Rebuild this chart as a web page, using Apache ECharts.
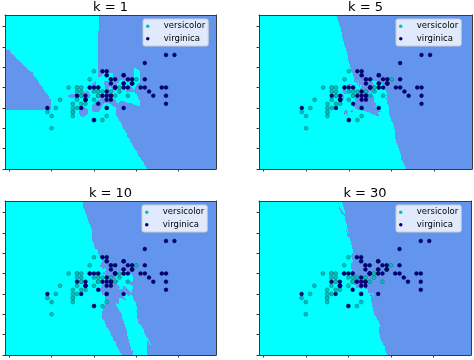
<!DOCTYPE html>
<html><head><meta charset="utf-8">
<script src="https://cdn.jsdelivr.net/npm/echarts@6/dist/echarts.min.js"></script>
<style>html,body{margin:0;padding:0;background:#fff}#c{width:474px;height:360px}</style>
</head><body><div id="c"></div>
<script>
// Iris: sepal length (x) and sepal width (y)
const versicolorX = [7.0,6.4,6.9,5.5,6.5,5.7,6.3,4.9,6.6,5.2,5.0,5.9,6.0,6.1,5.6,6.7,5.6,5.8,6.2,5.6,5.9,6.1,6.3,6.1,6.4,6.6,6.8,6.7,6.0,5.7,5.5,5.5,5.8,6.0,5.4,6.0,6.7,6.3,5.6,5.5,5.5,6.1,5.8,5.0,5.6,5.7,5.7,6.2,5.1,5.7];
const versicolorY = [3.2,3.2,3.1,2.3,2.8,2.8,3.3,2.4,2.9,2.7,2.0,3.0,2.2,2.9,2.9,3.1,3.0,2.7,2.2,2.5,3.2,2.8,2.5,2.8,2.9,3.0,2.8,3.0,2.9,2.6,2.4,2.4,2.7,2.7,3.0,3.4,3.1,2.3,3.0,2.5,2.6,3.0,2.6,2.3,2.7,3.0,2.9,2.9,2.5,2.8];
const virginicaX = [6.3,5.8,7.1,6.3,6.5,7.6,4.9,7.3,6.7,7.2,6.5,6.4,6.8,5.7,5.8,6.4,6.5,7.7,7.7,6.0,6.9,5.6,7.7,6.3,6.7,7.2,6.2,6.1,6.4,7.2,7.4,7.9,6.4,6.3,6.1,7.7,6.3,6.4,6.0,6.9,6.7,6.9,5.8,6.8,6.7,6.7,6.3,6.5,6.2,5.9];
const virginicaY = [3.3,2.7,3.0,2.9,3.0,3.0,2.5,2.9,2.5,3.6,3.2,2.7,3.0,2.5,2.8,3.2,3.0,3.8,2.6,2.2,3.2,2.8,2.8,2.7,3.3,3.2,2.8,3.0,2.8,3.0,2.8,3.8,2.8,2.8,2.6,3.0,3.4,3.1,3.0,3.1,3.1,3.1,2.7,3.2,3.3,3.0,2.5,3.0,3.4,3.0];
const classNames = ['versicolor','virginica'];
const kValues = [1,5,10,30];
const xTicks = [4,5,6,7,8];
const yTicks = [1.0,1.5,2.0,2.5,3.0,3.5,4.0,4.5];
const gridStep = 0.02;

// training set
const TX = versicolorX.concat(virginicaX);
const TY = versicolorY.concat(virginicaY);
const TC = versicolorX.map(()=>0).concat(virginicaX.map(()=>1));
const N = TX.length;

// mesh like np.arange(min-1, max+1, h)
const xLo = Math.min(...TX) - 1, xHi = Math.max(...TX) + 1;
const yLo = Math.min(...TY) - 1, yHi = Math.max(...TY) + 1;
const xs = [], ys = [];
for (let i = 0; xLo + i*gridStep < xHi - 1e-9; i++) xs.push(xLo + i*gridStep);
for (let j = 0; yLo + j*gridStep < yHi - 1e-9; j++) ys.push(yLo + j*gridStep);
const xMin = xs[0], xMax = xs[xs.length-1], yMin = ys[0], yMax = ys[ys.length-1];

const bd = new Float64Array(64), bc = new Int8Array(64);
function predict(px, py, k) {
  for (let j = 0; j < k; j++) { bd[j] = Infinity; bc[j] = 0; }
  for (let i = 0; i < N; i++) {
    const dx = TX[i]-px, dy = TY[i]-py, d = dx*dx+dy*dy;
    if (d < bd[k-1]) {
      let j = k-1;
      while (j > 0 && bd[j-1] > d) { bd[j] = bd[j-1]; bc[j] = bc[j-1]; j--; }
      bd[j] = d; bc[j] = TC[i];
    }
  }
  let v = 0; for (let j = 0; j < k; j++) v += bc[j];
  return (2*v > k) ? 1 : 0;
}
function regionRuns(k) {
  const runs = [];
  const half = gridStep/2;
  for (let j = 0; j < ys.length; j++) {
    let start = -1;
    for (let i = 0; i <= xs.length; i++) {
      const c = i < xs.length ? predict(xs[i], ys[j], k) : 1;
      if (c === 0 && start < 0) start = i;
      if (c !== 0 && start >= 0) {
        runs.push([xs[start]-half, xs[i-1]+half, ys[j]-half, ys[j]+half]);
        start = -1;
      }
    }
  }
  return runs;
}

const panels = [
  {left:5, top:15, width:211, height:154, legendLeft:143, legendTop:19, titleTop:1},
  {left:259, top:15, width:213, height:154, legendLeft:396, legendTop:19, titleTop:1},
  {left:5, top:201, width:211, height:154, legendLeft:142, legendTop:205, titleTop:187},
  {left:259, top:201, width:212, height:154, legendLeft:396, legendTop:205, titleTop:187}
];
const lineCol = '#3a3a3a';
const grid = [], xAxis = [], yAxis = [], series = [], title = [], legend = [];
panels.forEach((p, idx) => {
  grid.push({left:p.left, top:p.top, width:p.width, height:p.height, show:true, backgroundColor:'#6495ED', borderWidth:0});
  const axBase = {type:'value', gridIndex:idx, min:xMin, max:xMax, splitLine:{show:false}, axisLabel:{show:false}, z:5};
  xAxis.push(Object.assign({}, axBase, {position:'bottom', axisLine:{show:true, onZero:false, lineStyle:{color:lineCol, width:1}}, axisTick:{show:true, length:2.5, customValues:xTicks, lineStyle:{color:lineCol}}}));
  xAxis.push(Object.assign({}, axBase, {position:'top', axisLine:{show:true, onZero:false, lineStyle:{color:lineCol, width:1}}, axisTick:{show:false}}));
  const ayBase = {type:'value', gridIndex:idx, min:yMin, max:yMax, splitLine:{show:false}, axisLabel:{show:false}, z:5};
  yAxis.push(Object.assign({}, ayBase, {position:'left', axisLine:{show:true, onZero:false, lineStyle:{color:lineCol, width:1}}, axisTick:{show:true, length:2.5, customValues:yTicks, lineStyle:{color:lineCol}}}));
  yAxis.push(Object.assign({}, ayBase, {position:'right', axisLine:{show:true, onZero:false, lineStyle:{color:lineCol, width:1}}, axisTick:{show:false}}));
  const xi = idx*2, yi = idx*2;
  series.push({
    type:'custom', xAxisIndex:xi, yAxisIndex:yi, silent:true, z:1,
    data: regionRuns(kValues[idx]),
    encode:{x:[0,1], y:[2,3]},
    renderItem: function(params, api) {
      const a = api.coord([api.value(0), api.value(3)]);
      const b = api.coord([api.value(1), api.value(2)]);
      const x0 = Math.round(a[0]), y0 = Math.round(a[1]), x1 = Math.round(b[0]), y1 = Math.round(b[1]);
      const cs = params.coordSys;
      const r = echarts.graphic.clipRectByRect({x:x0, y:y0, width:x1-x0, height:y1-y0}, {x:cs.x, y:cs.y, width:cs.width, height:cs.height});
      if (!r || r.width <= 0 || r.height <= 0) return;
      return {type:'rect', shape:r, style:{fill:'#00FFFF'}};
    }
  });
  series.push({
    name:classNames[0], type:'scatter', xAxisIndex:xi, yAxisIndex:yi, z:3,
    data: versicolorX.map((x,i)=>[x, versicolorY[i]]),
    symbolSize:4, itemStyle:{color:'#00BFBF', borderColor:'#1a3a3a', borderWidth:0.3, opacity:1}
  });
  series.push({
    name:classNames[1], type:'scatter', xAxisIndex:xi, yAxisIndex:yi, z:4,
    data: virginicaX.map((x,i)=>[x, virginicaY[i]]),
    symbolSize:4, itemStyle:{color:'#00008B', borderColor:'#000', borderWidth:0.3, opacity:1}
  });
  title.push({text:'k = ' + kValues[idx], left:p.left + p.width/2, top:p.titleTop, textAlign:'center', padding:0,
    textStyle:{fontFamily:'DejaVu Sans', fontSize:13, fontWeight:'normal', color:'#000'}});
  legend.push({data:classNames, left:p.legendLeft, top:p.legendTop, orient:'vertical', icon:'circle',
    itemWidth:22, itemHeight:3.5, itemGap:2.5, padding:[2.25,3,2.25,3], selectedMode:false,
    itemStyle:{borderWidth:0},
    backgroundColor:'rgba(255,255,255,0.8)', borderColor:'#cccccc', borderWidth:1, borderRadius:2,
    textStyle:{fontFamily:'DejaVu Sans', fontSize:8.5, color:'#000', lineHeight:10}});
});

const chart = echarts.init(document.getElementById('c'), null, {renderer:'canvas'});
chart.setOption({animation:false, backgroundColor:'#fff', grid, xAxis, yAxis, series, title, legend});
</script>
</body></html>
